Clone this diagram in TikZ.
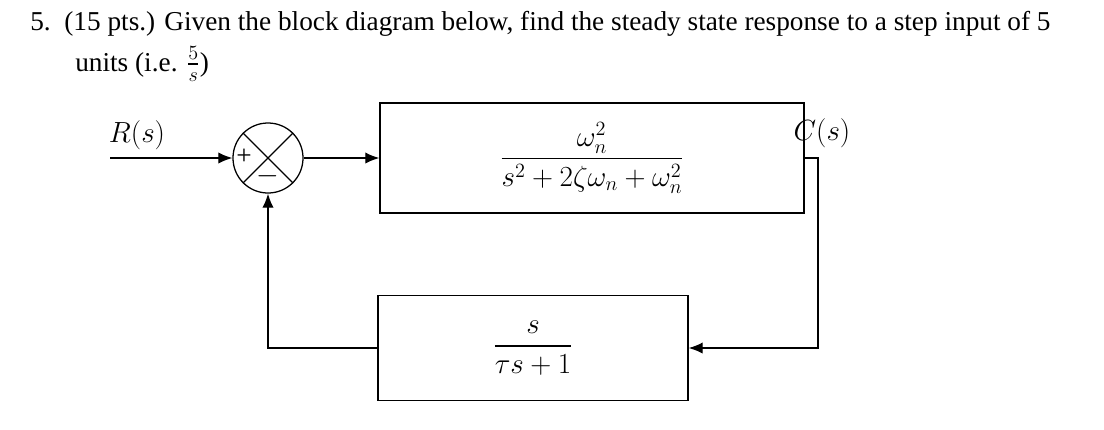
\documentclass[tikz,border=0pt]{standalone}
\usepackage{amsmath}
\usepackage{fontspec}
\setmainfont{Liberation Serif}
\usetikzlibrary{arrows.meta}
\begin{document}
\begin{tikzpicture}[x=0.025cm,y=-0.025cm,
  blk/.style={draw,line width=0.9pt},
  wire/.style={line width=0.9pt},
  arr/.style={wire,-{Latex[length=10pt,width=8pt]}},
  txt/.style={font=\fontsize{19.4}{23}\selectfont,inner sep=0pt}]
\useasboundingbox (0,0) rectangle (1104,429);
\node[txt,anchor=west] (q1) at (30,24) {5.\ \ (15 pts.) Given the block diagram below, find the steady state response to a step input of 5};
\node[txt,anchor=west] (q2) at (75,64) {units (i.e. $\frac{5}{s}$)};
\node[txt] (R) at (137,135) {$R(s)$};
\node[txt] (C) at (822,133) {$C(s)$};
\coordinate (rin) at (110,158);
\node[draw,circle,line width=0.9pt,inner sep=0pt,minimum size=1.75cm] (sum) at (268,158) {};
\draw[wire] (sum.north west) -- (sum.south east) (sum.north east) -- (sum.south west);
\node[txt] (plus) at (244,157) {+};
\node[txt] (minus) at (268,176) {$-$};
\node[blk,minimum width=10.6cm,minimum height=2.75cm] (g) at (592,158) {};
\node[txt,font=\fontsize{22}{26}\selectfont] (gt) at (g) {$\dfrac{\omega_n^2}{s^2+2\zeta\omega_n+\omega_n^2}$};
\node[blk,minimum width=7.75cm,minimum height=2.63cm] (h) at (533,348) {};
\node[txt,font=\fontsize{22}{26}\selectfont] (ht) at (h) {$\dfrac{s}{\tau s+1}$};
\coordinate (c1) at (818,158);
\coordinate (c2) at (818,348);
\coordinate (c3) at (268,348);
\draw[arr] (rin) -- (sum.west);
\draw[arr] (sum.east) -- (g.west);
\draw[arr] (g.east) -- (c1) -- (c2) -- (h.east);
\draw[arr] (h.west) -- (c3) -- (sum.south);
\end{tikzpicture}
\end{document}
